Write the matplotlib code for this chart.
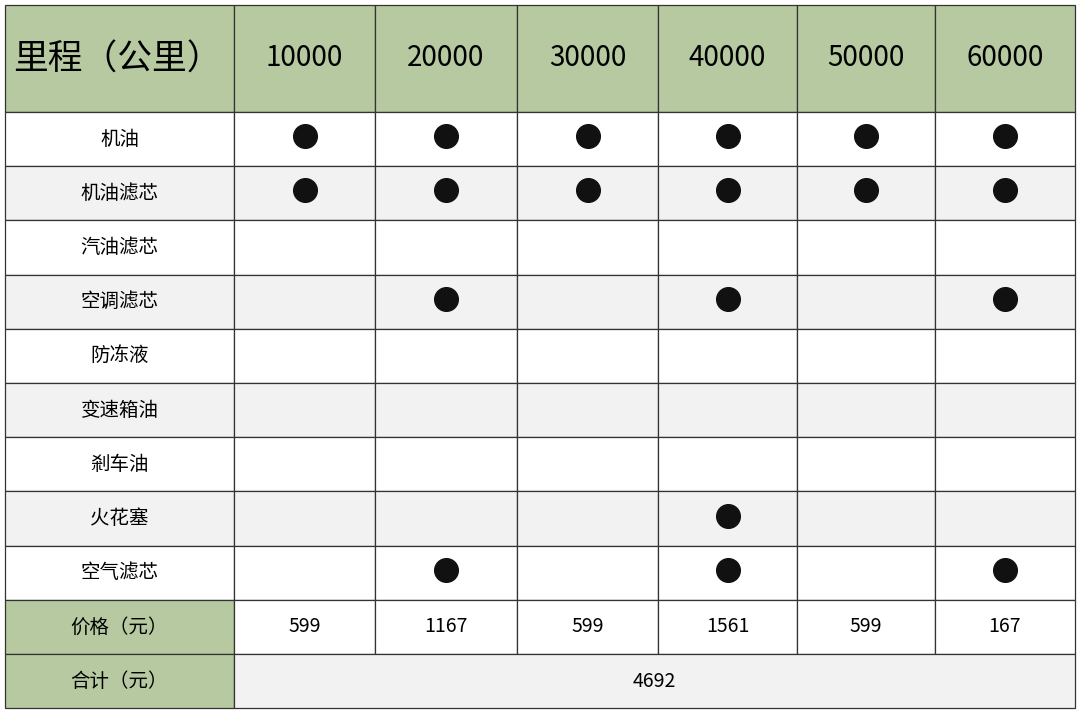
import matplotlib
matplotlib.use('Agg')
import matplotlib.pyplot as plt
from matplotlib.patches import Rectangle

plt.rcParams['font.family'] = ['Noto Sans CJK SC', 'DejaVu Sans']

# data
mileage = ["10000", "20000", "30000", "40000", "50000", "60000"]
items = ["机油", "机油滤芯", "汽油滤芯", "空调滤芯", "防冻液", "变速箱油", "剎车油", "火花塞", "空气滤芯"]
schedule = [
    [1, 1, 1, 1, 1, 1],
    [1, 1, 1, 1, 1, 1],
    [0, 0, 0, 0, 0, 0],
    [0, 1, 0, 1, 0, 1],
    [0, 0, 0, 0, 0, 0],
    [0, 0, 0, 0, 0, 0],
    [0, 0, 0, 0, 0, 0],
    [0, 0, 0, 1, 0, 0],
    [0, 1, 0, 1, 0, 1],
]
prices = [599, 1167, 599, 1561, 599, 167]
total = 4692

GREEN = '#b7c9a1'
GRAY = '#f2f2f2'
col_x = [5, 234, 375, 517, 658, 797, 935, 1075]
header_top, header_bot = 5, 112
row_h = 54.2

fig = plt.figure(figsize=(10.8, 7.15), dpi=100)
ax = fig.add_axes([0, 0, 1, 1])
ax.set_xlim(0, 1080)
ax.set_ylim(715, 0)
ax.axis('off')

def cell(x0, x1, y0, y1, color):
    ax.add_patch(Rectangle((x0, y0), x1 - x0, y1 - y0, facecolor=color,
                           edgecolor='#333333', linewidth=0.9))

# header
cell(col_x[0], col_x[1], header_top, header_bot, GREEN)
ax.text(col_x[0] + 8, 60, "里程（公里）", ha='left', va='center', fontsize=25, fontweight='medium')
for j, m in enumerate(mileage):
    cell(col_x[j + 1], col_x[j + 2], header_top, header_bot, GREEN)
    ax.text((col_x[j + 1] + col_x[j + 2]) / 2, 58, m, ha='center', va='center', fontsize=20)

# item rows
for i, name in enumerate(items):
    y0 = header_bot + i * row_h
    y1 = y0 + row_h
    bg = GRAY if i % 2 == 1 else 'white'
    cell(col_x[0], col_x[1], y0, y1, bg)
    ax.text((col_x[0] + col_x[1]) / 2, (y0 + y1) / 2, name, ha='center', va='center', fontsize=14)
    for j in range(len(mileage)):
        cell(col_x[j + 1], col_x[j + 2], y0, y1, bg)
        if schedule[i][j]:
            ax.scatter([(col_x[j + 1] + col_x[j + 2]) / 2], [(y0 + y1) / 2 - 3],
                       s=290, color='#111111', zorder=3)

# price row
y0 = header_bot + len(items) * row_h
y1 = y0 + row_h
cell(col_x[0], col_x[1], y0, y1, GREEN)
ax.text((col_x[0] + col_x[1]) / 2, (y0 + y1) / 2, "价格（元）", ha='center', va='center', fontsize=14)
for j, p in enumerate(prices):
    cell(col_x[j + 1], col_x[j + 2], y0, y1, 'white')
    ax.text((col_x[j + 1] + col_x[j + 2]) / 2, (y0 + y1) / 2, str(p), ha='center', va='center', fontsize=14)

# total row
y0, y1 = y1, y1 + row_h
cell(col_x[0], col_x[1], y0, y1, GREEN)
ax.text((col_x[0] + col_x[1]) / 2, (y0 + y1) / 2, "合计（元）", ha='center', va='center', fontsize=14)
cell(col_x[1], col_x[-1], y0, y1, GRAY)
ax.text((col_x[1] + col_x[-1]) / 2, (y0 + y1) / 2, str(total), ha='center', va='center', fontsize=14)

fig.savefig('out.png', dpi=100, facecolor='white')
